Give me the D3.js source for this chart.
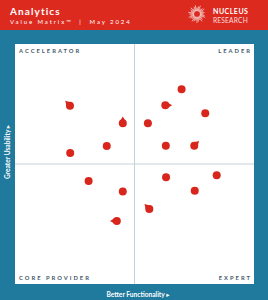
<!DOCTYPE html>
<html lang="en">
<head>
<meta charset="utf-8">
<title>Analytics Value Matrix</title>
<style>
  html,body{margin:0;padding:0;background:#1f7a9e;overflow:hidden;}
  svg{display:block;font-family:"Lato","DejaVu Sans",sans-serif;}
</style>
</head>
<body>
<svg id="chart" width="268" height="300"></svg>
<script src="https://cdn.jsdelivr.net/npm/d3@7"></script>
<script>
// vendors: functionality (x) and usability (y), 0-100
const functionality = [23.0, 45.1, 38.4, 23.1, 69.7, 62.9, 79.6, 55.6, 63.1, 75.0, 30.8, 45.1, 42.6, 63.2, 84.4, 75.2, 56.2];
const usability     = [74.3, 67.0, 57.5, 54.6, 81.1, 74.5, 71.1, 67.0, 57.6, 57.6, 42.9, 38.5, 26.3, 44.5, 45.3, 38.9, 31.3];
// movement arrow direction in degrees (0 = right, 90 = up), null = no arrow
const movement      = [135, 90, null, null, null, 0, null, null, null, 45, null, null, 180, null, null, null, 135];
const quadrants = ["ACCELERATOR", "LEADER", "CORE PROVIDER", "EXPERT"];

const svg = d3.select("#chart");
const W = 268, H = 300;
const box = {x0: 15, x1: 254, y0: 44, y1: 284};

// header
svg.append("rect").attr("width", W).attr("height", H).attr("fill", "#1f7a9e");
svg.append("rect").attr("width", W).attr("height", 30).attr("fill", "#dc2a1f");
svg.append("text").attr("x", 10).attr("y", 15)
    .attr("fill", "#fff").attr("font-size", 10).attr("font-weight", 700)
    .attr("letter-spacing", 1.1).text("Analytics");
svg.append("text").attr("x", 10).attr("y", 23.5)
    .attr("fill", "#fff").attr("font-size", 6).attr("xml:space", "preserve")
    .attr("letter-spacing", 1.9).text("Value Matrix™  |  May 2024");

// logo starburst
const logo = svg.append("g").attr("transform", "translate(197,14)");
d3.range(32).forEach(i => {
    const a = i / 32 * 2 * Math.PI, r0 = 3, r1 = 6.5 + (i % 3) * 1.2;
    logo.append("line")
        .attr("x1", r0 * Math.cos(a)).attr("y1", r0 * Math.sin(a))
        .attr("x2", r1 * Math.cos(a)).attr("y2", r1 * Math.sin(a))
        .attr("stroke", "#fff").attr("stroke-opacity", 0.7).attr("stroke-width", 0.9);
});
svg.append("text").attr("x", 213).attr("y", 14)
    .attr("fill", "#fff").attr("font-size", 7).attr("font-weight", 700)
    .attr("letter-spacing", 0.5).text("NUCLEUS");
svg.append("text").attr("x", 213).attr("y", 22.8)
    .attr("fill", "#fff").attr("fill-opacity", 0.85).attr("font-size", 6.6)
    .attr("letter-spacing", 0.2).text("RESEARCH");

// plot area
svg.append("rect").attr("x", box.x0).attr("y", box.y0)
    .attr("width", box.x1 - box.x0).attr("height", box.y1 - box.y0)
    .attr("fill", "#fff");

const x = d3.scaleLinear().domain([0, 100]).range([box.x0, box.x1]);
const y = d3.scaleLinear().domain([0, 100]).range([box.y1, box.y0]);

svg.append("line").attr("x1", x(50)).attr("x2", x(50)).attr("y1", box.y0).attr("y2", box.y1)
    .attr("stroke", "#c3d2d9").attr("stroke-width", 1);
svg.append("line").attr("x1", box.x0).attr("x2", box.x1).attr("y1", y(50)).attr("y2", y(50))
    .attr("stroke", "#c3d2d9").attr("stroke-width", 1.2);

// quadrant labels
const qStyle = sel => sel.attr("fill", "#44596a").attr("font-size", 5.8)
    .attr("font-weight", 700).attr("letter-spacing", 2);
qStyle(svg.append("text").attr("x", 19).attr("y", 53).text(quadrants[0]));
qStyle(svg.append("text").attr("x", 252).attr("y", 53).attr("text-anchor", "end").text(quadrants[1]));
qStyle(svg.append("text").attr("x", 19).attr("y", 280).text(quadrants[2]));
qStyle(svg.append("text").attr("x", 252).attr("y", 280).attr("text-anchor", "end").text(quadrants[3]));

// axis titles
svg.append("text").attr("x", 138).attr("y", 296.5)
    .attr("text-anchor", "middle").attr("fill", "#fff")
    .attr("font-size", 6.6).attr("font-weight", 700).text("Better Functionality  ▸");
svg.append("text").attr("transform", "translate(10,152) rotate(-90)")
    .attr("text-anchor", "middle").attr("fill", "#fff")
    .attr("font-size", 6.6).attr("font-weight", 700).text("Greater Usability  ▸");

// vendors
const data = functionality.map((f, i) => ({f, u: usability[i], m: movement[i]}));
const red = "#d8261c";
const g = svg.append("g");
g.selectAll("path.arrow").data(data.filter(d => d.m !== null)).enter()
    .append("path").attr("class", "arrow")
    .attr("d", "M2,-2.8 L6.8,0 L2,2.8 Z")
    .attr("fill", red)
    .attr("transform", d => `translate(${x(d.f)},${y(d.u)}) rotate(${-d.m})`);
g.selectAll("circle").data(data).enter().append("circle")
    .attr("cx", d => x(d.f)).attr("cy", d => y(d.u)).attr("r", 4)
    .attr("fill", red);
</script>
</body>
</html>
